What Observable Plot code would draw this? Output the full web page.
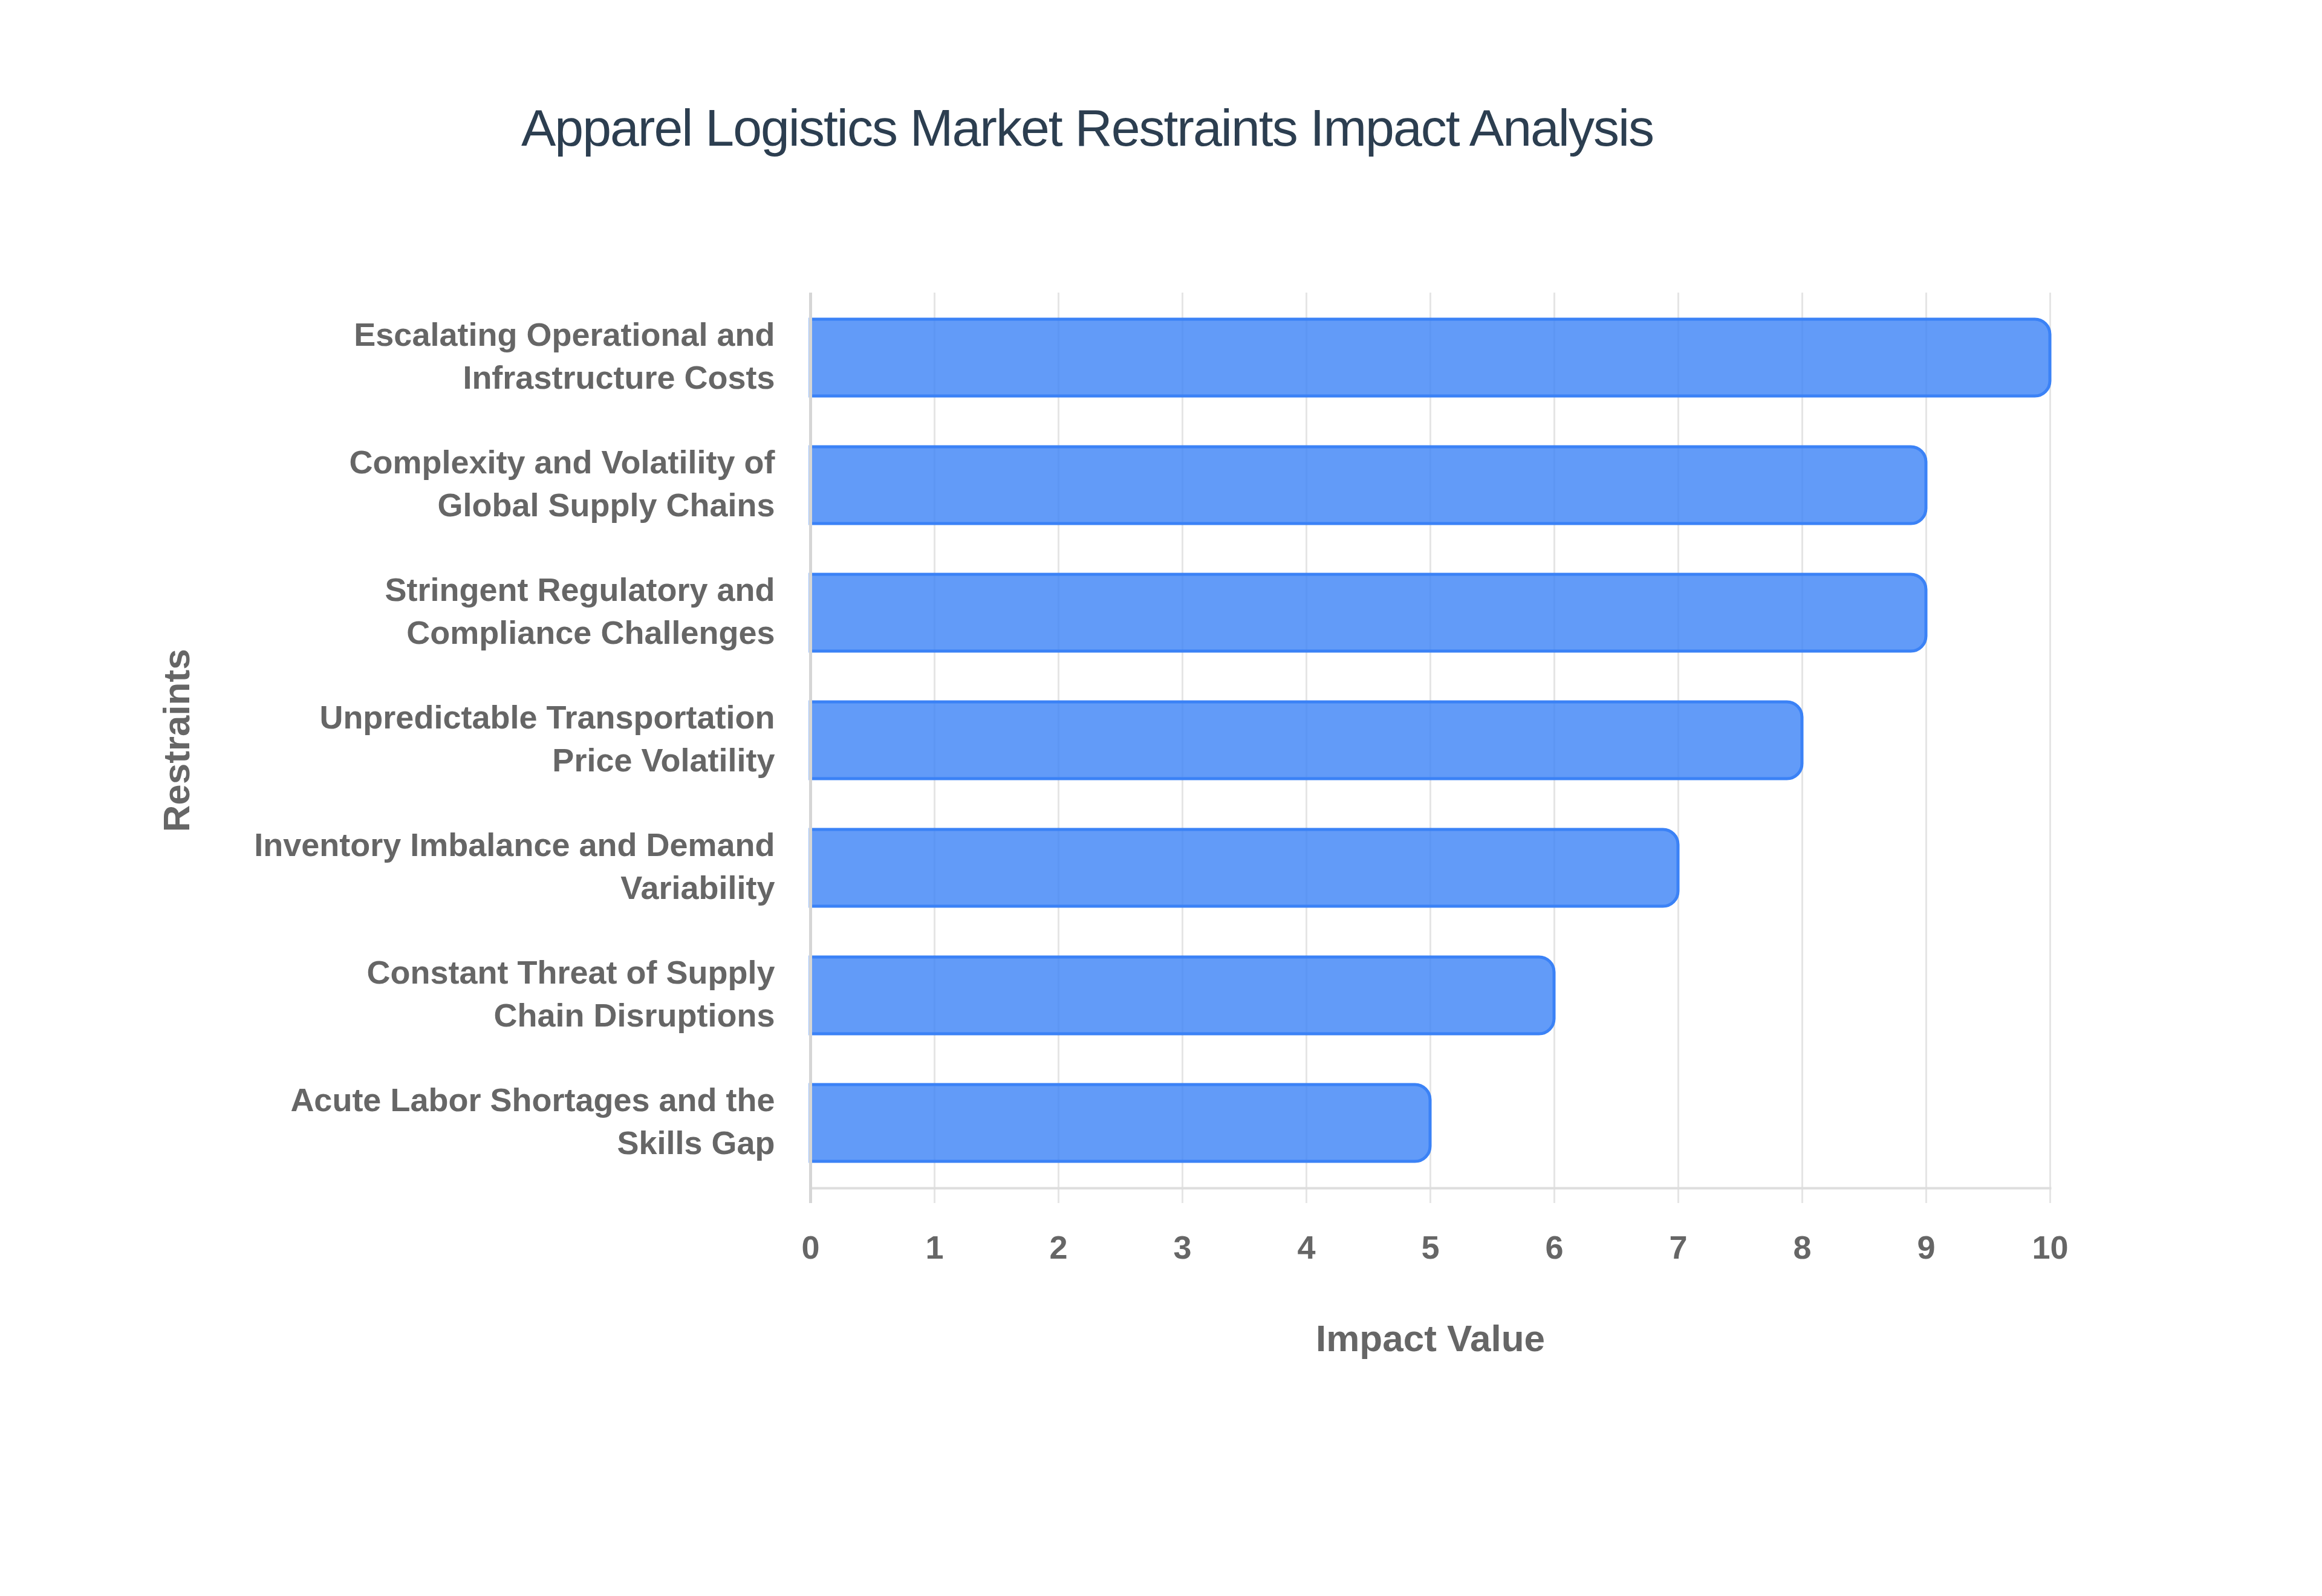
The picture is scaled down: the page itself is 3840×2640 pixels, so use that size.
<!DOCTYPE html>
<html>
<head>
<meta charset="utf-8">
<script src="https://cdn.jsdelivr.net/npm/d3@7"></script>
<script src="https://cdn.jsdelivr.net/npm/@observablehq/plot@0.6"></script>
<style>
html, body { margin: 0; padding: 0; background: #ffffff; }
#wrap { position: relative; width: 3840px; height: 2640px; background: #ffffff; }
#chart { position: absolute; left: 0; top: 0; }
#title {
  position: absolute; left: 1798px; top: 168px; transform: translateX(-50%);
  white-space: nowrap; font-family: "Liberation Sans", Arial, sans-serif;
  font-size: 86px; line-height: 86px; letter-spacing: -2px; color: #2c3e50;
}
</style>
</head>
<body>
<div id="wrap">
  <div id="chart"></div>
  <div id="title">Apparel Logistics Market Restraints Impact Analysis</div>
</div>
<script>
const restraints = [
  "Escalating Operational and\nInfrastructure Costs",
  "Complexity and Volatility of\nGlobal Supply Chains",
  "Stringent Regulatory and\nCompliance Challenges",
  "Unpredictable Transportation\nPrice Volatility",
  "Inventory Imbalance and Demand\nVariability",
  "Constant Threat of Supply\nChain Disruptions",
  "Acute Labor Shortages and the\nSkills Gap"
];
const impactValues = [10, 9, 9, 8, 7, 6, 5];
const xTicks = [0, 1, 2, 3, 4, 5, 6, 7, 8, 9, 10];
const xAxisTitle = "Impact Value";
const yAxisTitle = "Restraints";

const data = restraints.map((r, i) => ({restraint: r, value: impactValues[i]}));

const chart = Plot.plot({
  width: 3840,
  height: 2640,
  marginLeft: 1340,
  marginRight: 450,
  marginTop: 484,
  marginBottom: 675,
  style: {
    fontFamily: '"Liberation Sans", Arial, Helvetica, sans-serif',
    fontSize: "54px",
    fontWeight: "bold",
    color: "#666666",
    background: "#ffffff"
  },
  x: {domain: [0, 10]},
  y: {domain: restraints, paddingInner: 0.4, paddingOuter: 0.2},
  marks: [
    Plot.gridX(xTicks, {stroke: "#e5e5e5", strokeOpacity: 1, strokeWidth: 3, insetBottom: -25}),
    Plot.frame({anchor: "bottom", stroke: "#dddddd", strokeWidth: 4}),
    Plot.barX(data, {
      x: "value", y: "restraint",
      fill: "#3b82f6", fillOpacity: 0.8,
      stroke: "#3b82f6", strokeWidth: 5,
      rx2: 25
    }),
    Plot.gridX([0], {stroke: "#d6d6d6", strokeOpacity: 1, strokeWidth: 5, insetBottom: -25}),
    Plot.axisX(xTicks, {tickSize: 0, tickPadding: 78, tickFormat: d3.format("d"), fontSize: 54, fontWeight: "bold", fill: "#666666", label: null}),
    Plot.axisY({tickSize: 0, tickPadding: 59, dy: -7, fontSize: 54, fontWeight: "bold", fill: "#666666", lineHeight: 1.3, label: null}),
    Plot.text([xAxisTitle], {frameAnchor: "bottom", dy: 250, fontSize: 62, fontWeight: "bold", fill: "#666666", lineAnchor: "middle", textAnchor: "middle"}),
    Plot.text([yAxisTitle], {frameAnchor: "left", dx: -1047, rotate: -90, fontSize: 62, fontWeight: "bold", fill: "#666666", lineAnchor: "middle", textAnchor: "middle"})
  ]
});
document.getElementById("chart").appendChild(chart);
</script>
</body>
</html>
